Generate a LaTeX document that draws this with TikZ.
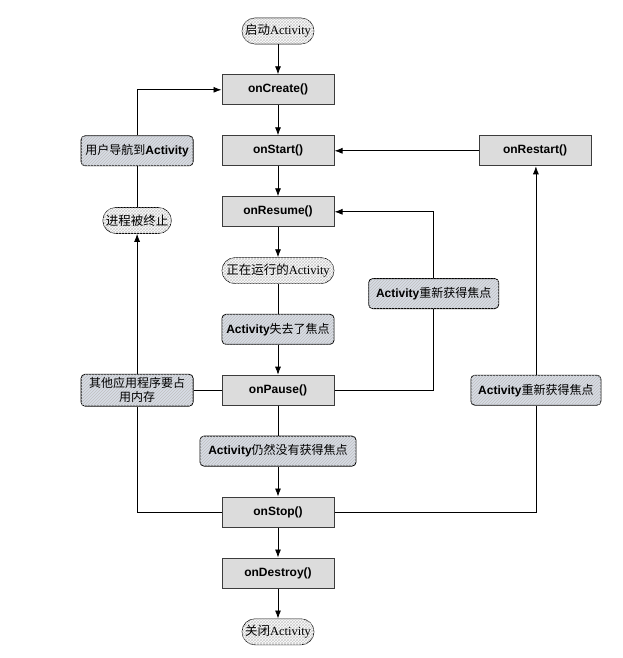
\documentclass[tikz,border=0pt]{standalone}
\usepackage{fontspec}
\setmainfont{Liberation Sans}
\newfontfamily\pillfont{Liberation Serif}
\newfontfamily\cjk{Noto Sans CJK SC}
\usetikzlibrary{arrows.meta,patterns,positioning}
\definecolor{procgray}{HTML}{DCDCDC}
\definecolor{notefill}{HTML}{D8DDE6}
\definecolor{edgegray}{HTML}{3C3C3C}
\tikzset{
  %Define standard arrow tip
    >={Latex[length=8pt,width=6pt]},
  %define style for lifecycle boxes
  proc/.style={
    rectangle,
    draw=edgegray, line width=1pt,
    fill=procgray,
    minimum width=112pt,
    minimum height=30pt,
    font=\bfseries\fontsize{12}{14}\selectfont},
  %define style for start and end states
  pill/.style={
    rectangle,
    rounded corners=13pt,
    draw=black, line width=0.6pt,
    fill=white,
    postaction={pattern=crosshatch, pattern color=gray!40},
    minimum height=26pt,
    inner xsep=3pt,
    font=\pillfont\fontsize{12.5}{14}\selectfont},
  %define style for event boxes
  note/.style={
    rectangle,
    rounded corners=4pt,
    draw=black, line width=0.8pt,
    fill=notefill,
    postaction={pattern=north east lines, pattern color=gray!50},
    minimum height=30pt,
    inner xsep=3pt,
    align=center,
    font=\fontsize{12}{14}\selectfont},
  %define style for connectors
  link/.style={
    draw=black,
    line width=0.8pt}
}

\begin{document}
\begin{tikzpicture}[x=1pt, y=-1pt, node distance=30pt]
\useasboundingbox (0,0) rectangle (622,658);
%main column
\node[pill] (launch) at (278,31) {{\cjk 启动}Activity};
\node[proc, below=of launch] (create) {onCreate()};
\node[proc, below=of create] (start) {onStart()};
\node[proc, below=of start] (resume) {onResume()};
\node[pill, minimum width=112pt, below=of resume] (running) {{\cjk 正在运行的}Activity};
\node[note, minimum width=112pt, below=of running] (lost) {\textbf{Activity}{\cjk 失去了焦点}};
\node[proc, below=of lost] (pause) {onPause()};
\node[note, minimum width=156pt, below=of pause] (still) {\textbf{Activity}{\cjk 仍然没有获得焦点}};
\node[proc, below=of still] (stop) {onStop()};
\node[proc, below=of stop] (destroy) {onDestroy()};
\node[pill, below=of destroy] (close) {{\cjk 关闭}Activity};

%left side
\node[note, minimum width=112pt, left=28pt of start] (nav) {{\cjk 用户导航到}\textbf{Activity}};
\node[pill, font=\cjk\fontsize{12.5}{14}\selectfont, below=41pt of nav] (killed) {进程被终止};
\node[note, minimum width=112pt, font=\cjk\fontsize{12}{14}\selectfont, left=28pt of pause] (memory)
     {其他应用程序要占\\用内存};

%right side
\node[proc, right=144pt of start] (restart) {onRestart()};
\node[note, minimum width=130pt, right=34pt of running, yshift=-23pt] (refocusA)
     {\textbf{Activity}{\cjk 重新获得焦点}};
\node[note, minimum width=130pt, right=136pt of pause] (refocusB)
     {\textbf{Activity}{\cjk 重新获得焦点}};

%main flow
\foreach \a/\b in {launch/create, create/start, start/resume, resume/running,
                   lost/pause, still/stop, stop/destroy, destroy/close}
  \draw[link,->] (\a.south) -- (\b.north);
\draw[link] (running.south) -- (lost.north);
\draw[link] (pause.south) -- (still.north);

%back to onResume and onRestart
\draw[link] (pause.east) -| (refocusA.south);
\draw[link,->] (refocusA.north) |- (resume.east);
\draw[link] (stop.east) -| (refocusB.south);
\draw[link,->] (refocusB.north) -- (refocusB.north |- restart.south);
\draw[link,->] (restart.west) -- (start.east);

%killed process back to onCreate
\draw[link] (stop.west) -| (memory.south);
\draw[link] (memory.east) -- (pause.west);
\draw[link,->] (memory.north) -- (killed.south);
\draw[link] (killed.north) -- (nav.south);
\draw[link,->] (nav.north) |- (create.west);

\end{tikzpicture}
\end{document}
